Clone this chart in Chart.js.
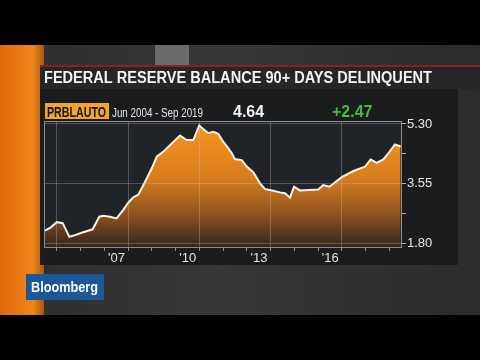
<!DOCTYPE html>
<html>
<head>
<meta charset="utf-8">
<script src="https://cdn.jsdelivr.net/npm/chart.js@4.4.0/dist/chart.umd.min.js"></script>
<style>
  html, body { margin: 0; padding: 0; background: #000; }
  #wrap { width: 480px; height: 360px; position: relative; }
</style>
</head>
<body>
<div id="wrap"><canvas id="chart" width="480" height="360"></canvas></div>
<script>
// PRBLAUTO readings, Jun 2004 - Sep 2019 (x as decimal years)
const years = [
  2004.49, 2004.71, 2004.99, 2005.24, 2005.52, 2005.76, 2006.04, 2006.50, 2006.78, 2006.95,
  2007.23, 2007.51, 2007.79, 2008.00, 2008.21, 2008.43, 2008.71, 2008.99, 2009.20, 2009.48,
  2009.83, 2010.18, 2010.46, 2010.74, 2010.99, 2011.16, 2011.37, 2011.58, 2011.79, 2012.00,
  2012.21, 2012.36, 2012.49, 2012.78, 2012.99, 2013.27, 2013.55, 2013.76, 2014.11, 2014.46,
  2014.60, 2014.81, 2014.98, 2015.23, 2016.00, 2016.21, 2016.47, 2016.99, 2017.48, 2017.97,
  2018.21, 2018.46, 2018.74, 2018.95, 2019.23, 2019.47
];
const values = [
  2.17, 2.25, 2.42, 2.39, 1.99, 2.04, 2.11, 2.21, 2.58, 2.61,
  2.58, 2.53, 2.78, 2.99, 3.15, 3.23, 3.61, 4.00, 4.34, 4.49,
  4.73, 4.96, 4.83, 4.83, 5.26, 5.15, 5.03, 5.07, 5.01, 4.78,
  4.59, 4.44, 4.27, 4.24, 4.05, 3.88, 3.56, 3.39, 3.34, 3.28,
  3.27, 3.14, 3.46, 3.35, 3.38, 3.51, 3.46, 3.74, 3.92, 4.05,
  4.26, 4.16, 4.26, 4.44, 4.70, 4.64
];

const xTickYears = [2005, 2006, 2007, 2008, 2009, 2010, 2011, 2012, 2013, 2014, 2015, 2016, 2017, 2018, 2019];
const xGridYears = [2005, 2008, 2011, 2014, 2017];
const xLabelYears = [2007, 2010, 2013, 2016];
const xLabels = ["'07", "'10", "'13", "'16"];

const yTicks = [1.80, 2.675, 3.55, 4.425, 5.30];
const yLabels = ['1.80', '', '3.55', '', '5.30'];
const yGrid = [1.80, 3.55, 5.30];

const title = 'FEDERAL RESERVE BALANCE 90+ DAYS DELINQUENT';
const ticker = 'PRBLAUTO';
const period = 'Jun 2004 - Sep 2019';
const lastValue = '4.64';
const change = '+2.47';

const FONT = '"Liberation Sans", Arial, sans-serif';

const backdrop = {
  id: 'backdrop',
  beforeDraw(chart) {
    const c = chart.ctx;
    const a = chart.chartArea;
    c.save();
    c.fillStyle = '#000';
    c.fillRect(0, 0, 480, 360);

    // studio wall behind the graphic
    let g = c.createLinearGradient(0, 0, 480, 0);
    g.addColorStop(0, '#2c2d2e');
    g.addColorStop(0.45, '#363738');
    g.addColorStop(1, '#2a2b2c');
    c.fillStyle = g;
    c.fillRect(0, 45, 480, 270);
    c.fillStyle = '#6a6b6a';
    c.fillRect(155, 45, 34, 20);

    // orange strip on the left
    g = c.createLinearGradient(0, 0, 44, 0);
    g.addColorStop(0, '#e2680b');
    g.addColorStop(0.75, '#f08619');
    g.addColorStop(1, '#a4580f');
    c.fillStyle = g;
    c.fillRect(0, 45, 44, 270);

    // red rule + title bar
    c.fillStyle = '#8a1f25';
    c.fillRect(40, 65, 440, 2);
    c.fillStyle = '#252628';
    c.fillRect(40, 67, 440, 22);

    // chart panel
    c.fillStyle = '#1b1c1d';
    c.fillRect(40, 89, 418, 176);
    c.fillStyle = '#202327';
    c.fillRect(a.left, a.top, a.width, a.height);

    c.textBaseline = 'alphabetic';
    c.fillStyle = '#f4f4f4';
    c.font = 'bold 16px ' + FONT;
    c.fillText(title, 44, 83, 388);

    c.fillStyle = '#f3a52b';
    c.fillRect(45, 103, 64, 16);
    c.fillStyle = '#141414';
    c.font = 'bold 14px ' + FONT;
    c.fillText(ticker, 47, 117, 59);

    c.fillStyle = '#e6e6e6';
    c.font = '13px ' + FONT;
    c.fillText(period, 112, 117, 91);

    c.fillStyle = '#f4f4f4';
    c.font = 'bold 16px ' + FONT;
    c.fillText(lastValue, 233, 117);
    c.fillStyle = '#40bf3e';
    c.fillText(change, 332, 117);

    // Bloomberg bug
    c.fillStyle = '#1c5797';
    c.fillRect(26, 274, 78, 26);
    c.fillStyle = '#ffffff';
    c.font = 'bold 15px ' + FONT;
    c.fillText('Bloomberg', 31, 292, 67);
    c.restore();
  },
  afterDraw(chart) {
    const c = chart.ctx;
    const a = chart.chartArea;
    c.save();
    c.strokeStyle = '#8e8e8e';
    c.lineWidth = 1;
    c.strokeRect(a.left + 0.5, a.top + 0.5, a.width - 1, a.height - 1);
    c.restore();
  }
};

new Chart(document.getElementById('chart'), {
  type: 'line',
  data: {
    datasets: [{
      data: years.map((x, i) => ({ x, y: values[i] })),
      borderColor: '#fbf3e4',
      borderWidth: 2,
      pointRadius: 0,
      tension: 0,
      fill: 'start',
      backgroundColor: (ctx) => {
        const area = ctx.chart.chartArea;
        if (!area) return null;
        const g = ctx.chart.ctx.createLinearGradient(0, area.top, 0, area.bottom);
        g.addColorStop(0, '#f9961f');
        g.addColorStop(0.45, '#d97d1c');
        g.addColorStop(0.75, '#8a5020');
        g.addColorStop(1, '#2e241d');
        return g;
      }
    }]
  },
  options: {
    responsive: false,
    animation: false,
    layout: { padding: { left: 44, top: 121, right: 0, bottom: 0 } },
    plugins: { legend: { display: false }, tooltip: { enabled: false } },
    scales: {
      x: {
        type: 'linear',
        min: 2004.453,
        max: 2019.527,
        afterBuildTicks: (s) => { s.ticks = xTickYears.map(v => ({ value: v })); },
        afterFit: (s) => { s.height = 112; },
        border: { display: false },
        grid: {
          z: 1,
          color: (ctx) => ctx.tick && xGridYears.includes(ctx.tick.value) ? 'rgba(200,200,200,0.3)' : 'rgba(0,0,0,0)',
          tickColor: '#8d8d8d',
          tickLength: 3
        },
        ticks: {
          autoSkip: false,
          maxRotation: 0,
          labelOffset: 12,
          padding: 0,
          color: '#e4e4e4',
          font: { family: FONT, size: 13 },
          callback: (v) => {
            const i = xLabelYears.indexOf(v);
            return i >= 0 ? xLabels[i] : '';
          }
        }
      },
      y: {
        position: 'right',
        min: 1.662,
        max: 5.388,
        afterBuildTicks: (s) => { s.ticks = yTicks.map(v => ({ value: v })); },
        afterFit: (s) => { s.width = 78; },
        border: { display: false },
        grid: {
          z: 1,
          color: (ctx) => ctx.tick && yGrid.includes(ctx.tick.value) ? 'rgba(200,200,200,0.3)' : 'rgba(0,0,0,0)',
          tickColor: '#b0b0b0',
          tickLength: 4
        },
        ticks: {
          padding: 1,
          color: '#e8e8e8',
          font: { family: FONT, size: 13 },
          callback: (v, i) => yLabels[i]
        }
      }
    }
  },
  plugins: [backdrop]
});
</script>
</body>
</html>
